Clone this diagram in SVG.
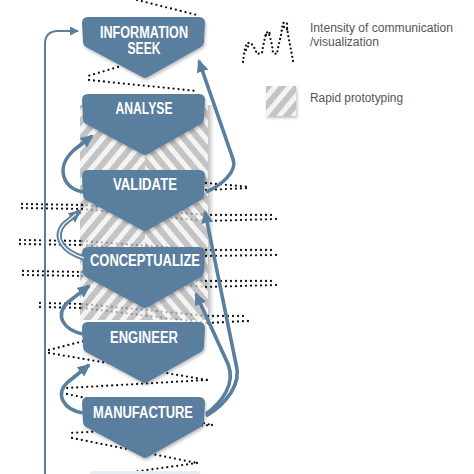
<svg xmlns="http://www.w3.org/2000/svg" xmlns:xlink="http://www.w3.org/1999/xlink" width="474" height="474" viewBox="0 0 474 474">
<defs>
<style>
.node{fill:#5a7e9e;filter:url(#sh)}
.lbl{font-family:"Liberation Sans",Arial,sans-serif;font-weight:bold;font-size:16px;fill:#fff;text-anchor:middle}
.leg{font-family:"Liberation Sans",Arial,sans-serif;font-size:12px;fill:#555}
.dot{fill:none;stroke:#111;stroke-width:2.3;stroke-dasharray:0 5;stroke-linecap:round}
.faint{opacity:0.3}
.arr{fill:none;stroke:#5a7e9e;stroke-width:3.6;marker-end:url(#ah)}
.thin{fill:none;stroke:#5a7e9e;stroke-width:2;marker-end:url(#ahs)}
</style>
<filter id="sh" x="-10%" y="-10%" width="125%" height="130%">
<feDropShadow dx="1" dy="2" stdDeviation="1.5" flood-color="#000" flood-opacity="0.25"/>
</filter>
<marker id="ah" markerUnits="userSpaceOnUse" markerWidth="14" markerHeight="13" refX="11" refY="6" orient="auto">
<path d="M0,0 L13,6 L0,12 z" fill="#5a7e9e"/>
</marker>
<marker id="ahs" markerUnits="userSpaceOnUse" markerWidth="10" markerHeight="9" refX="8" refY="4.5" orient="auto">
<path d="M0,0 L9,4.5 L0,9 z" fill="#5a7e9e"/>
</marker>
<pattern id="hL" patternUnits="userSpaceOnUse" width="11" height="11" patternTransform="rotate(40)">
<rect width="11" height="11" fill="#c4c4c4"/>
<rect width="5" height="11" fill="#f4f4f4"/>
</pattern>
<pattern id="hR" patternUnits="userSpaceOnUse" width="11" height="11" patternTransform="rotate(-40)">
<rect width="11" height="11" fill="#c4c4c4"/>
<rect width="5" height="11" fill="#f4f4f4"/>
</pattern>
<linearGradient id="shR" x1="0" x2="1" y1="0" y2="0">
<stop offset="0" stop-color="#999" stop-opacity="0.6"/>
<stop offset="1" stop-color="#999" stop-opacity="0"/>
</linearGradient>
<path id="shield" d="M88,0 L199,0 Q205,0 205,6 L204,25 Q204,28 201,30 L148,60 Q145,62 142,60 L86,30 Q83,28 83,25 L82,6 Q82,0 88,0 Z"/>
</defs>
<rect width="474" height="474" fill="#fff"/>

<g id="prototyping-area">
<rect x="80" y="105" width="65" height="215" fill="url(#hL)"/>
<rect x="145" y="105" width="63" height="215" fill="url(#hR)"/>
<rect x="208" y="105" width="6" height="215" fill="url(#shR)"/>
</g>

<g id="intensity">
<g class="faint">
<path class="dot" d="M82,205 L206,215 M82,209 L206,221 M82,241 L206,250 M82,245 L206,256 M82,272 L206,281 M82,276 L206,287 M82,304 L208,316 M82,308 L208,323"/>
</g>
<path class="dot" d="M137,0 L197,15"/>
<path class="dot" d="M118,67 L88,76 M89,80 L197,91"/>
<path class="dot" d="M206,183 L250,187 M206,190 L250,188"/>
<path class="dot" d="M22,204 L82,205 M22,208 L82,209"/>
<path class="dot" d="M206,215 L276,215 M206,221 L276,219"/>
<path class="dot" d="M20,240 L82,241 M20,244 L82,245"/>
<path class="dot" d="M206,250 L276,250 M206,256 L276,255"/>
<path class="dot" d="M23,271 L82,272 M23,275 L82,276"/>
<path class="dot" d="M206,281 L276,281 M206,287 L276,285"/>
<path class="dot" d="M40,303 L82,304 M40,307 L82,308"/>
<path class="dot" d="M208,316 L248,316 M208,323 L248,321"/>
<path class="dot" d="M49,350 L84,341 M49,353 L207,380 M207,380 L67,388 M67,394 L212,425 M212,425 L70,433 M72,438 L197,463 M197,463 L133,472"/>
</g>

<g id="node-information-seek"><use href="#shield" class="node" y="17"/><text class="lbl" x="144" y="38" textLength="88" lengthAdjust="spacingAndGlyphs">INFORMATION</text><text class="lbl" x="144" y="54" textLength="33" lengthAdjust="spacingAndGlyphs">SEEK</text></g>
<g id="node-analyse"><use href="#shield" class="node" y="94"/><text class="lbl" x="144" y="113.5" textLength="57" lengthAdjust="spacingAndGlyphs">ANALYSE</text></g>
<g id="node-validate"><use href="#shield" class="node" y="170"/><text class="lbl" x="145" y="189.5" textLength="64" lengthAdjust="spacingAndGlyphs">VALIDATE</text></g>
<g id="node-conceptualize"><use href="#shield" class="node" y="247"/><text class="lbl" x="145" y="265.5" textLength="110" lengthAdjust="spacingAndGlyphs">CONCEPTUALIZE</text></g>
<g id="node-engineer"><use href="#shield" class="node" y="322"/><text class="lbl" x="144" y="342.5" textLength="68" lengthAdjust="spacingAndGlyphs">ENGINEER</text></g>
<g id="node-manufacture"><use href="#shield" class="node" y="397"/><text class="lbl" x="143" y="417.5" textLength="100" lengthAdjust="spacingAndGlyphs">MANUFACTURE</text></g>
<rect x="90" y="471" width="110" height="3" fill="#e6eef4"/>

<g id="connectors">
<path class="thin" d="M45,474 V44 Q45,31 58,31 L78,31"/>
<path class="arr" d="M206,192 C220,186 238,172 233,159 L199,61"/>
<path class="arr" d="M84,192 C64,190 54,168 74,150 L92,136"/>
<path class="arr" d="M84,258 C64,252 52,238 64,224 L80,211" style="stroke-width:5"/>
<path d="M84,258 C64,252 52,238 64,224 L76,214" fill="none" stroke="#e8eef3" stroke-width="1.4"/>
<path class="arr" d="M83,334 C64,330 54,316 68,302 L89,286"/>
<path class="arr" d="M83,413 C64,410 54,394 68,382 L89,365"/>
<path class="arr" d="M206,416 C226,404 242,384 236,364 L205,212"/>
<path class="arr" d="M206,414 C222,402 236,384 228,364 L196,294"/>
</g>

<g id="legend">
<path class="dot" d="M243,62 L245,48 L247,43 L251,43 L255,49 L257,54 L262,53 L263,47 L266,33 L268,32 L270,37 L272,45 L273,53 L277,54 L278,48 L281,35 L283,23 L287,23 L287,28 L289,40 L291,50 L293,61" style="stroke-dasharray:0 4.2"/>
<path class="dot" d="M246,50 L249,45 M266,35 L270,33 M284,27 L289,31" style="stroke-dasharray:0 4"/>
<text class="leg" x="310" y="32" textLength="143" lengthAdjust="spacingAndGlyphs">Intensity of communication</text>
<text class="leg" x="310" y="46" textLength="69" lengthAdjust="spacingAndGlyphs">/visualization</text>
<rect x="266" y="86" width="30" height="30" fill="url(#hL)" filter="url(#sh)"/>
<text class="leg" x="310" y="102" textLength="93" lengthAdjust="spacingAndGlyphs">Rapid prototyping</text>
</g>
</svg>
